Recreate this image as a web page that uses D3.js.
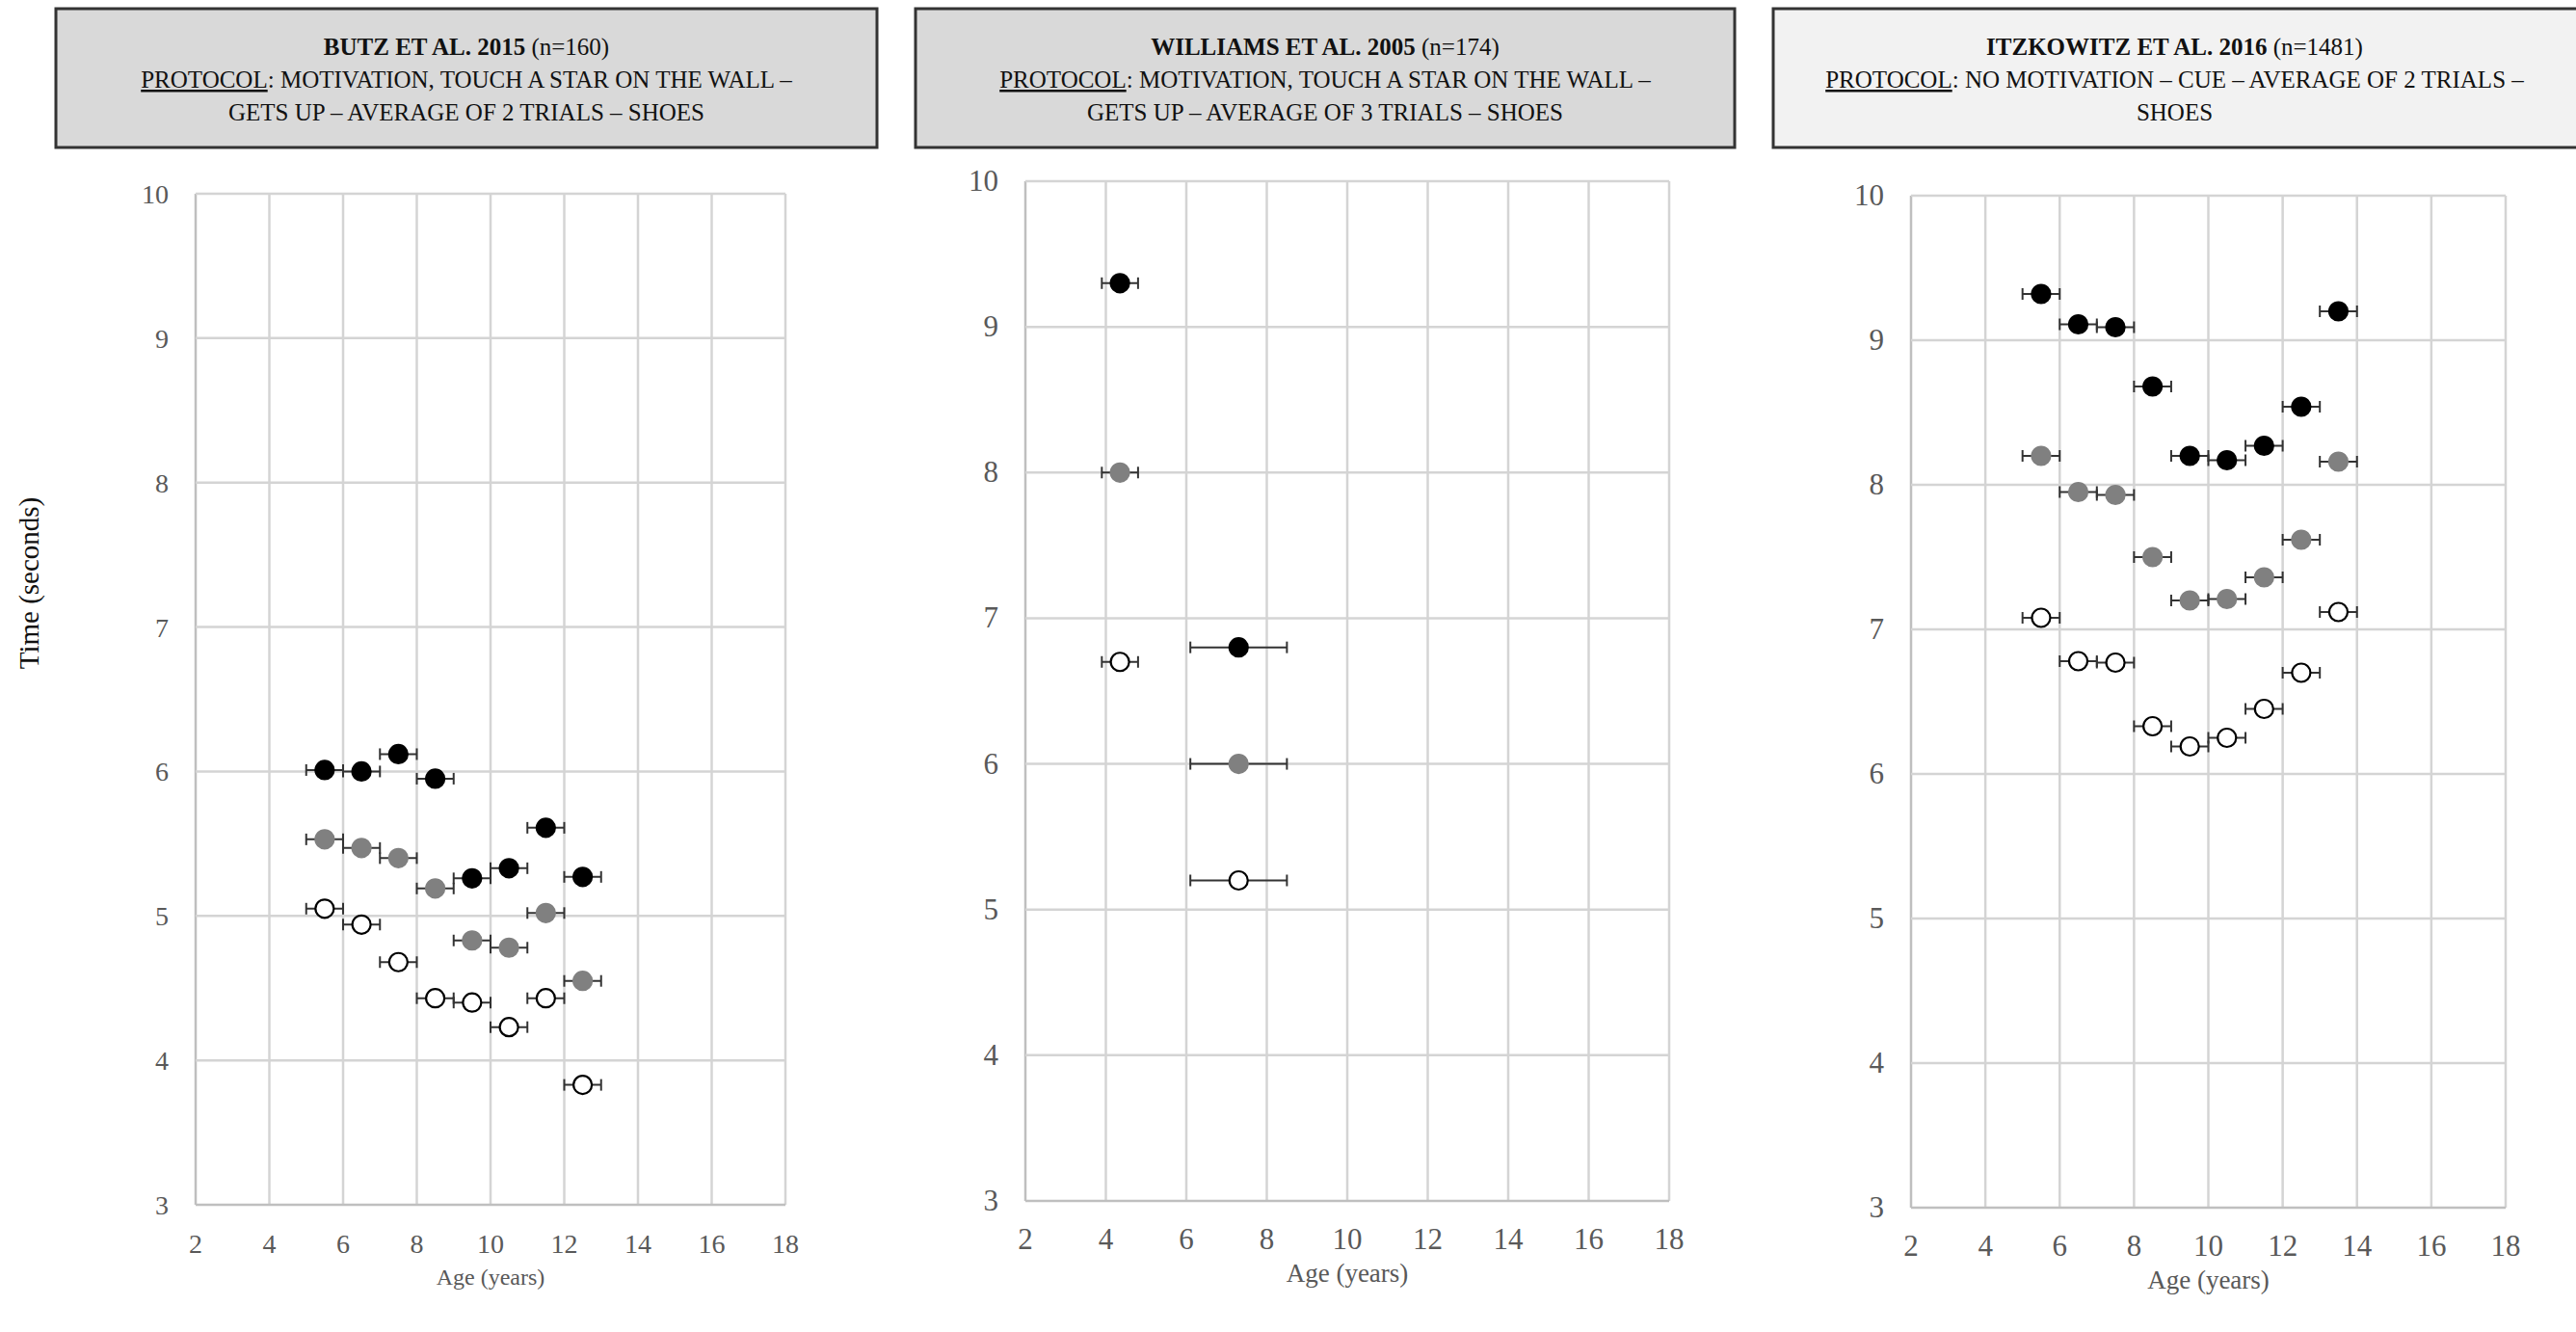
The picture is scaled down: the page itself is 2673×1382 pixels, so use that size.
<!DOCTYPE html>
<html><head><meta charset="utf-8">
<script src="https://cdn.jsdelivr.net/npm/d3@7"></script>
<style>body{margin:0;background:#fff}text{font-family:"Liberation Serif","Times New Roman",serif}</style>
</head><body><svg id="c" width="2673" height="1382"></svg>
<script>
const xTicks=[2,4,6,8,10,12,14,16,18];
const yTicks=[3,4,5,6,7,8,9,10];
// Butz 2015
const butzAge=[5.5,6.5,7.5,8.5,9.5,10.5,11.5,12.5];
const butzAgeErr=[0.5,0.5,0.5,0.5,0.5,0.5,0.5,0.5];
const butzBlack=[6.01,6.0,6.12,5.95,5.26,5.33,5.61,5.27];
const butzGray=[5.53,5.47,5.40,5.19,4.83,4.78,5.02,4.55];
const butzWhite=[5.05,4.94,4.68,4.43,4.40,4.23,4.43,3.83];
// Williams 2005
const willAge=[4.35,7.3];
const willAgeErr=[0.45,1.2];
const willBlack=[9.3,6.8];
const willGray=[8.0,6.0];
const willWhite=[6.7,5.2];
// Itzkowitz 2016
const itzAge=[5.5,6.5,7.5,8.5,9.5,10.5,11.5,12.5,13.5];
const itzAgeErr=[0.5,0.5,0.5,0.5,0.5,0.5,0.5,0.5,0.5];
const itzBlack=[9.32,9.11,9.09,8.68,8.20,8.17,8.27,8.54,9.20];
const itzGray=[8.20,7.95,7.93,7.50,7.20,7.21,7.36,7.62,8.16];
const itzWhite=[7.08,6.78,6.77,6.33,6.19,6.25,6.45,6.70,7.12];

const panels=[
 {title:"BUTZ ET AL. 2015",n:" (n=160)",l2:"MOTIVATION, TOUCH A STAR ON THE WALL –",l3:"GETS UP – AVERAGE OF 2 TRIALS – SHOES",box:[58,9,852,144],fill:"#d9d9d9",
  px:[203,815],py:[201,1250],age:butzAge,err:butzAgeErr,s:[butzBlack,butzGray,butzWhite],xl:1333,fs:24},
 {title:"WILLIAMS ET AL. 2005",n:" (n=174)",l2:"MOTIVATION, TOUCH A STAR ON THE WALL –",l3:"GETS UP – AVERAGE OF 3 TRIALS – SHOES",box:[950,9,850,144],fill:"#d9d9d9",
  px:[1064,1732],py:[188,1246],age:willAge,err:willAgeErr,s:[willBlack,willGray,willWhite],xl:1330,fs:27},
 {title:"ITZKOWITZ  ET AL. 2016",n:" (n=1481)",l2:"NO MOTIVATION – CUE – AVERAGE OF 2 TRIALS –",l3:"SHOES",box:[1840,9,845,144],fill:"#f2f2f2",
  px:[1983,2600],py:[203,1253],age:itzAge,err:itzAgeErr,s:[itzBlack,itzGray,itzWhite],xl:1337,fs:27}
];
const fills=["#000","#808080","#fff"], strokes=["#000","#808080","#000"];
const svg=d3.select("#c");
panels.forEach(p=>{
 const [bx,by,bw,bh]=p.box;
 svg.append("rect").attr("x",bx).attr("y",by).attr("width",bw).attr("height",bh).attr("fill",p.fill).attr("stroke","#333").attr("stroke-width",3);
 const cx=p===panels[2]?bx+bw/2-6:bx+bw/2;
 const t1=svg.append("text").attr("x",cx).attr("y",by+48).attr("text-anchor","middle").attr("font-size",25).attr("fill","#111");
 t1.append("tspan").attr("font-weight","bold").text(p.title);
 t1.append("tspan").text(p.n);
 const t2=svg.append("text").attr("x",cx).attr("y",by+82).attr("text-anchor","middle").attr("font-size",25).attr("fill","#111");
 t2.append("tspan").attr("text-decoration","underline").text("PROTOCOL");
 t2.append("tspan").text(":  "+p.l2);
 svg.append("text").attr("x",cx).attr("y",by+116).attr("text-anchor","middle").attr("font-size",25).attr("fill","#111").text(p.l3);

 const x=d3.scaleLinear().domain([2,18]).range(p.px);
 const y=d3.scaleLinear().domain([3,10]).range([p.py[1],p.py[0]]);
 const g=svg.append("g");
 g.selectAll(".vx").data(xTicks).join("line").attr("x1",d=>x(d)).attr("x2",d=>x(d)).attr("y1",y(3)).attr("y2",y(10)).attr("stroke",d=>d===2?"#bfbfbf":"#d4d4d4").attr("stroke-width",2.5);
 g.selectAll(".hy").data(yTicks).join("line").attr("y1",d=>y(d)).attr("y2",d=>y(d)).attr("x1",x(2)).attr("x2",x(18)).attr("stroke",d=>d===3?"#bfbfbf":"#d4d4d4").attr("stroke-width",2.5);
 g.selectAll(".xt").data(xTicks).join("text").attr("x",d=>x(d)).attr("y",y(3)+50).attr("text-anchor","middle").attr("font-size",p.fs+4).attr("fill","#595959").text(d=>d);
 g.selectAll(".yt").data(yTicks).join("text").attr("x",x(2)-28).attr("y",d=>y(d)+10).attr("text-anchor","end").attr("font-size",p.fs+4).attr("fill","#595959").text(d=>d);
 svg.append("text").attr("x",(p.px[0]+p.px[1])/2).attr("y",p.xl).attr("text-anchor","middle").attr("font-size",p.fs).attr("fill","#595959").text("Age (years)");
 p.s.forEach((vals,si)=>{
  const pts=vals.map((v,i)=>({a:p.age[i],e:p.err[i],v}));
  const eg=g.append("g").attr("stroke","#333").attr("stroke-width",2);
  eg.selectAll(".e").data(pts).join("line").attr("x1",d=>x(d.a-d.e)).attr("x2",d=>x(d.a+d.e)).attr("y1",d=>y(d.v)).attr("y2",d=>y(d.v));
  eg.selectAll(".c1").data(pts).join("line").attr("x1",d=>x(d.a-d.e)).attr("x2",d=>x(d.a-d.e)).attr("y1",d=>y(d.v)-6).attr("y2",d=>y(d.v)+6);
  eg.selectAll(".c2").data(pts).join("line").attr("x1",d=>x(d.a+d.e)).attr("x2",d=>x(d.a+d.e)).attr("y1",d=>y(d.v)-6).attr("y2",d=>y(d.v)+6);
  g.selectAll(".p"+si).data(pts).join("circle").attr("cx",d=>x(d.a)).attr("cy",d=>y(d.v)).attr("r",9.5).attr("fill",fills[si]).attr("stroke",strokes[si]).attr("stroke-width",2.2);
 });
});
svg.append("text").attr("transform","translate(40,605) rotate(-90)").attr("text-anchor","middle").attr("font-size",29).attr("fill","#111").text("Time (seconds)");
</script></body></html>
